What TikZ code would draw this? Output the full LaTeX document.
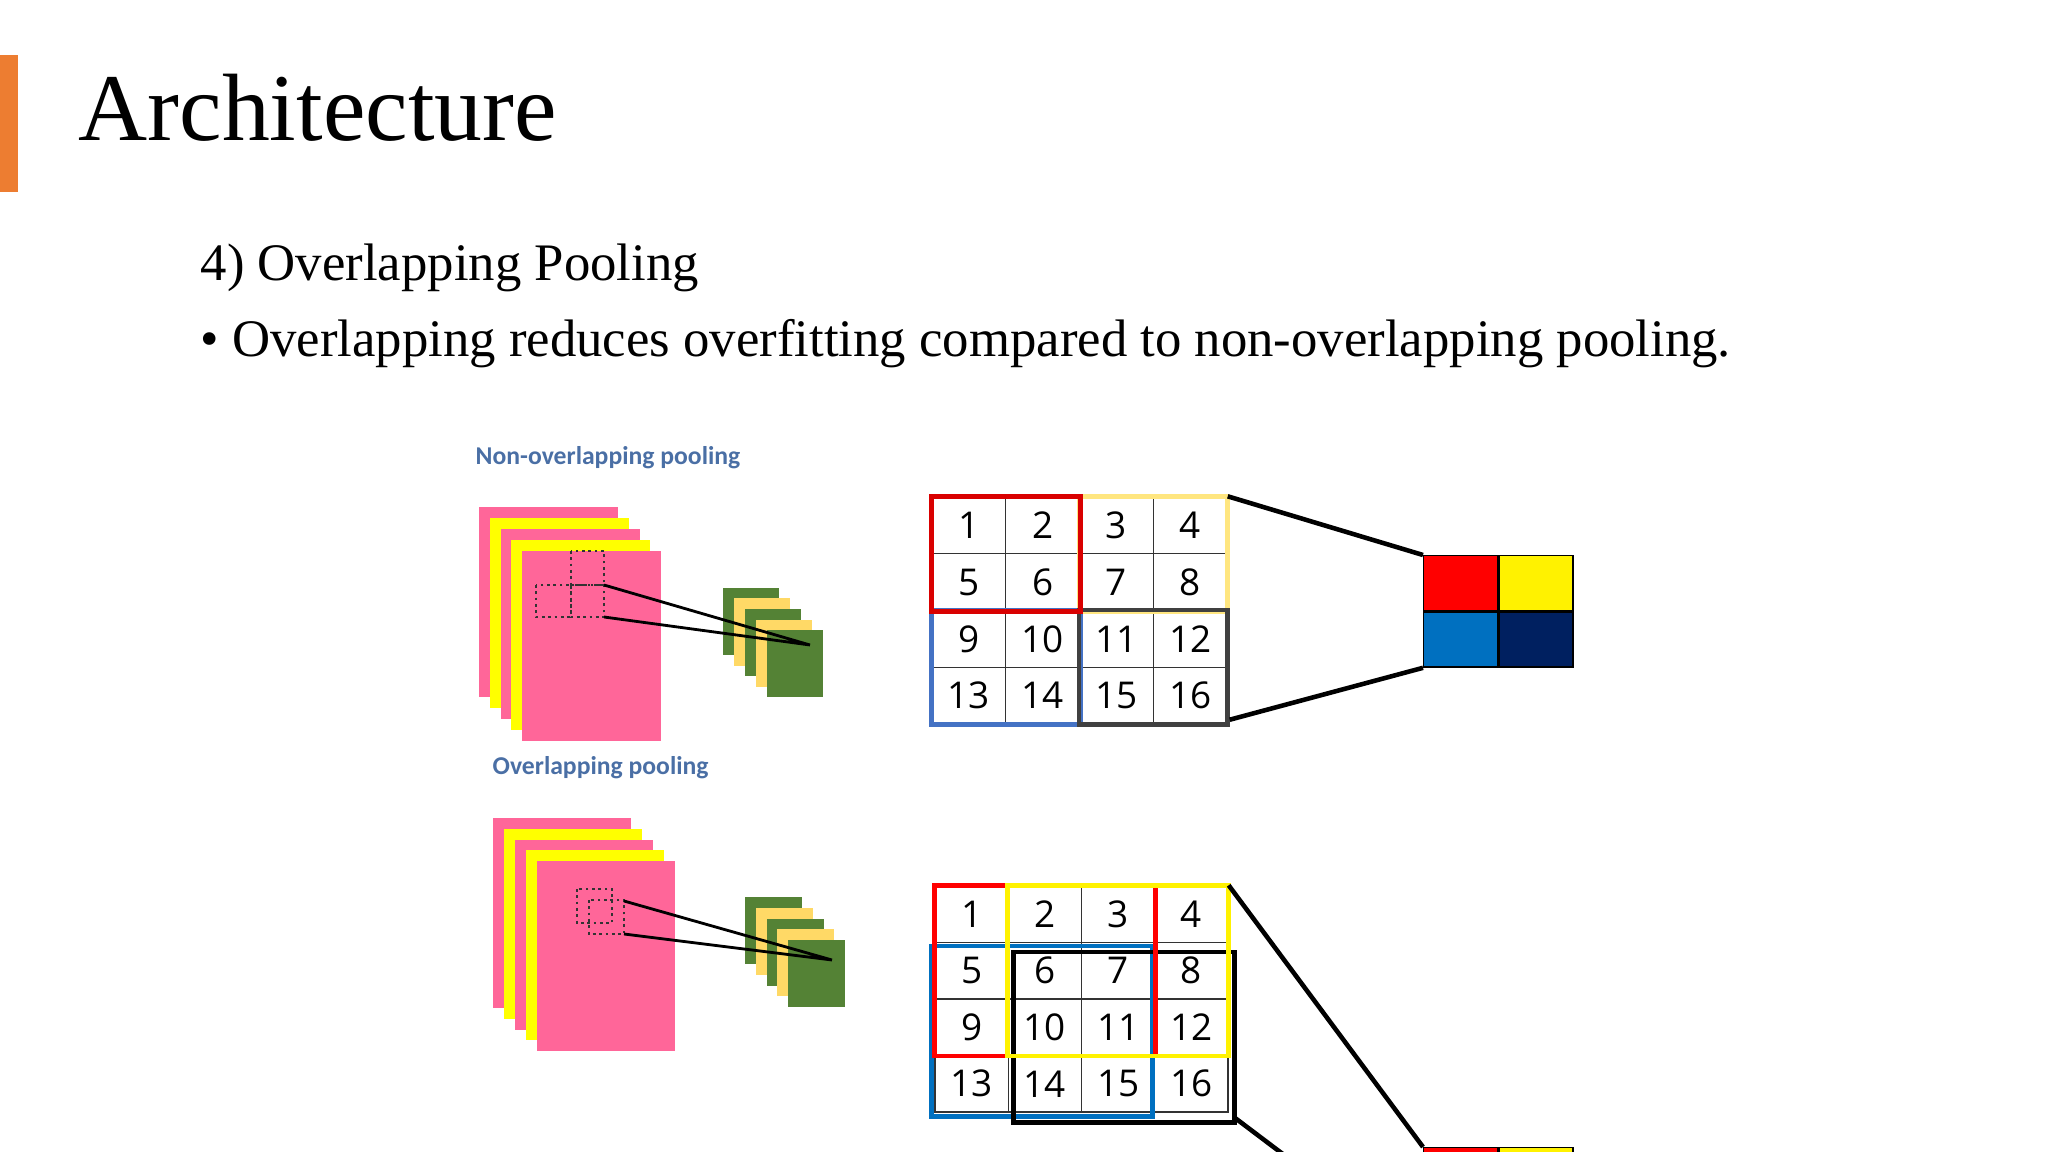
\documentclass[tikz,border=0pt]{standalone}
\usepackage{fontspec}
\setmainfont{Liberation Serif}
\newfontfamily\labelfont{Carlito}
\newfontfamily\numfont{Open Sans}
\usetikzlibrary{positioning}
\definecolor{sheetpink}{HTML}{FF6699}
\definecolor{sheetyellow}{HTML}{FFFF00}
\definecolor{mapgreen}{HTML}{548235}
\definecolor{maptan}{HTML}{FFD966}
\definecolor{labelblue}{HTML}{4A6FA5}
\definecolor{barorange}{HTML}{ED7D31}
\definecolor{poolblue}{HTML}{0070C0}
\definecolor{poolnavy}{HTML}{002060}
\definecolor{boxblue}{HTML}{4472C4}
\definecolor{boxyellow}{HTML}{FFE680}

\tikzset{
  window/.style={densely dotted,thick,draw=black!80},
  link/.style={thick,black},
  zoneline/.style={line width=1.3pt,black},
  numcell/.style={font=\numfont\fontsize{10.5}{12}\selectfont,draw=black!80,inner sep=0},
  pool/.style={draw,minimum width=74*0.01cm,minimum height=55*0.01cm,inner sep=0,anchor=north west},
  caption/.style={font=\labelfont\bfseries\fontsize{7.3}{9}\selectfont,text=labelblue,anchor=west}
}

\begin{document}
\begin{tikzpicture}[x=0.01cm,y=-0.01cm]
  \useasboundingbox (0,0) rectangle (2048,1152);
  \fill[barorange] (0,55) rectangle (18,192);
  \node[anchor=base west,inner sep=0,font=\fontsize{27.2}{31}\selectfont] (title) at (78,141) {Architecture};
  \node[anchor=base west,inner sep=0,font=\fontsize{15}{18}\selectfont] (sub) at (200,281) {4) Overlapping Pooling};
  \node[anchor=base west,inner sep=0,font=\fontsize{15}{18}\selectfont] (bullet) at (200,357)
      {\textbullet\ Overlapping reduces overfitting compared to non-overlapping pooling.};

  % top: non-overlapping
  \node[caption,inner sep=0] (capA) at (475,458) {Non-overlapping pooling};
  \foreach \k/\c in {0/sheetpink,1/sheetyellow,2/sheetpink,3/sheetyellow,4/sheetpink}
    \fill[\c] (479+\k*10.75,507+\k*11) rectangle ++(139,190);
  \draw[window] (571,551) rectangle (604,585);
  \draw[window] (536,585) rectangle (571,617);
  \draw[window] (571,585) rectangle (604,617);
  \foreach \k/\c in {0/mapgreen,1/maptan,2/mapgreen,3/maptan,4/mapgreen}
    \fill[\c] (723+\k*11,588+\k*10.5) rectangle ++(56,67);
  \coordinate (wA1) at (604,585);
  \coordinate (wA2) at (604,617);
  \coordinate (outA) at (810,645);
  \draw[link] (wA1) -- (outA) (wA2) -- (outA);

  % bottom: overlapping
  \node[caption,inner sep=0] (capB) at (492,768) {Overlapping pooling};
  \foreach \k/\c in {0/sheetpink,1/sheetyellow,2/sheetpink,3/sheetyellow,4/sheetpink}
    \fill[\c] (493+\k*11,818+\k*10.75) rectangle ++(138,190);
  \draw[window] (577,889) rectangle (612,923);
  \draw[window] (589,900) rectangle (624,934);
  \foreach \k/\c in {0/mapgreen,1/maptan,2/mapgreen,3/maptan,4/mapgreen}
    \fill[\c] (745+\k*10.75,897+\k*10.75) rectangle ++(57,67);
  \coordinate (wB1) at (624,901);
  \coordinate (wB2) at (624,934);
  \coordinate (outB) at (832,960);
  \draw[link] (wB1) -- (outB) (wB2) -- (outB);

  % grids
  \foreach \r in {0,...,3}
    \foreach \c in {0,...,3}{
      \pgfmathtruncatemacro{\n}{4*\r+\c+1}
      \node[numcell,minimum width=73.75*0.01cm,minimum height=56.75*0.01cm] (ga\n) at (968.9+\c*73.75,525.4+\r*56.75) {\n};
      \node[numcell,minimum width=73.25*0.01cm,minimum height=56.5*0.01cm] (gb\n) at (971.6+\c*73.25,914.25+\r*56.5) {\n};
    }
  \draw[line width=1.3pt,boxyellow] (ga3.north west) rectangle (ga8.south east);
  \draw[line width=1.3pt,boxblue] (ga9.north west) rectangle (ga14.south east);
  \draw[line width=1.3pt,black!75] (ga11.north west) rectangle (ga16.south east);
  \draw[line width=1.3pt,red!85!black] (ga1.north west) rectangle (ga6.south east);

  \draw[line width=1.3pt,poolblue] ([shift={(-3,4)}]gb5.north west) rectangle ([shift={(-3,4)}]gb15.south east);
  \draw[line width=1.3pt,black] ([shift={(6,10)}]gb6.north west) rectangle ([shift={(6,10)}]gb16.south east);
  \draw[line width=1.3pt,red] (gb1.north west) rectangle (gb11.south east);
  \draw[line width=1.3pt,yellow] (gb2.north west) rectangle (gb12.south east);

  % pooled outputs
  \foreach \g/\y in {pa/555,pb/1147}{
    \node[pool,fill=red] (\g1) at (1423,\y) {};
    \node[pool,fill=yellow] (\g2) at (\g1.north east) {};
    \node[pool,fill=poolblue] (\g3) at (\g1.south west) {};
    \node[pool,fill=poolnavy] (\g4) at (\g1.south east) {};
  }
  \draw[zoneline] (ga4.north east) -- (pa1.north west);
  \draw[zoneline] ([shift={(2,-5)}]ga16.south east) -- (pa3.south west);
  \draw[zoneline] (gb4.north east) -- (pb1.north west);
  \draw[zoneline] ([shift={(6,5)}]gb16.south east) -- (pb3.south west);
\end{tikzpicture}
\end{document}
